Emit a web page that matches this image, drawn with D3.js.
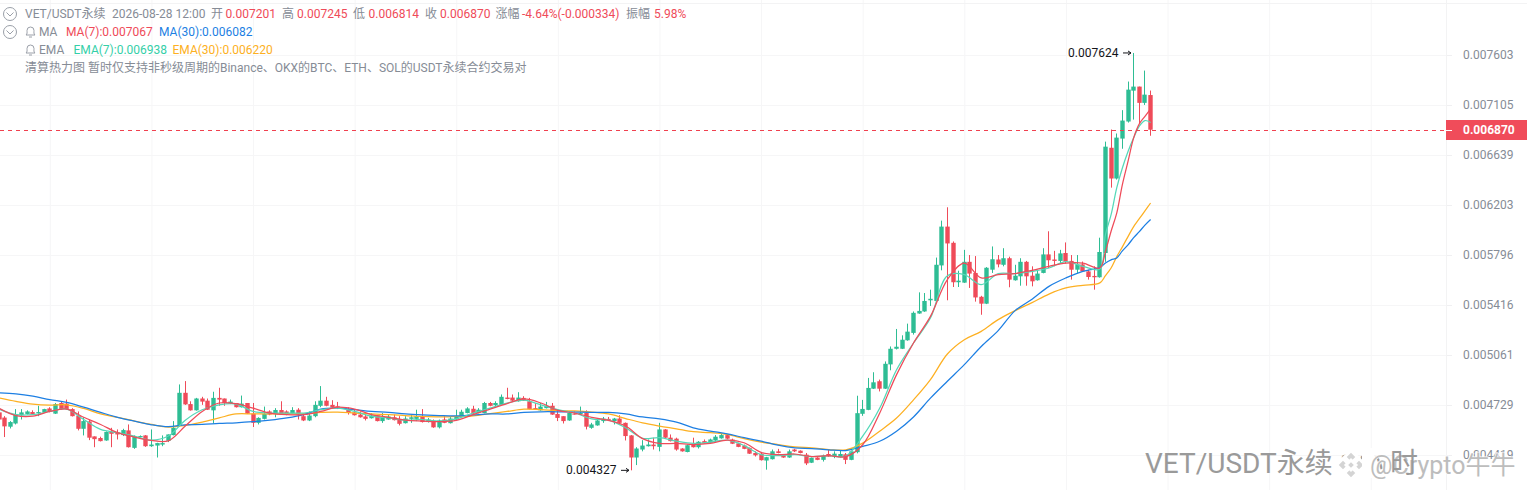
<!DOCTYPE html>
<html lang="zh">
<head>
<meta charset="UTF-8">
<title>VET/USDT永续</title>
<script src="https://d3js.org/d3.v7.min.js"></script>
<style>
  html, body { margin: 0; padding: 0; background: #fff; overflow: hidden; }
  text { font-family: Roboto, "Noto Sans CJK SC", sans-serif; font-size: 12px; }
  .grid line { stroke: #f6f6f7; }
  .grid path, .price-axis path { display: none; }
  .price-axis text { fill: #868c96; font-size: 12px; }
  .price-axis line { stroke: #f0f0f2; }
</style>
</head>
<body>
<svg id="chart" width="1527" height="490"></svg>
<script>
// candles, prices x 1e-6
const opens = [4682,4649,4592,4612,4666,4672,4684,4682,4682,4707,4674,4742,4738,4703,4662,4579,4625,4532,4522,4507,4561,4555,4540,4569,4462,4530,4538,4472,4476,4482,4505,4540,4596,4808,4735,4695,4771,4757,4695,4775,4771,4738,4742,4715,4742,4674,4616,4641,4688,4674,4697,4688,4676,4699,4658,4631,4658,4724,4757,4730,4721,4709,4703,4682,4668,4656,4645,4662,4627,4637,4651,4639,4614,4641,4641,4658,4621,4629,4588,4637,4614,4637,4658,4678,4705,4678,4678,4742,4728,4730,4777,4777,4753,4775,4753,4709,4695,4709,4724,4672,4658,4631,4674,4672,4678,4585,4600,4627,4641,4627,4643,4616,4538,4404,4452,4472,4482,4468,4575,4524,4518,4458,4437,4482,4466,4503,4493,4507,4520,4540,4513,4489,4476,4462,4431,4427,4386,4394,4441,4421,4404,4452,4445,4421,4373,4404,4390,4425,4410,4406,4423,4390,4436,4673,4698,4835,4884,4835,4997,5104,5104,5163,5215,5354,5369,5451,5446,5715,6024,5893,5586,5583,5743,5657,5477,5426,5682,5761,5720,5771,5601,5631,5743,5636,5601,5657,5801,5761,5750,5812,5750,5682,5723,5669,5634,5624,5812,6704,6430,6788,6947,7244,7284,7125,7201];
const highs = [4699,4658,4627,4703,4703,4695,4695,4724,4705,4715,4742,4753,4764,4709,4688,4651,4637,4532,4530,4563,4585,4575,4579,4606,4538,4538,4540,4575,4493,4538,4544,4627,4863,4885,4753,4775,4782,4771,4815,4841,4771,4764,4742,4790,4742,4742,4651,4719,4695,4709,4753,4695,4715,4709,4678,4688,4753,4852,4782,4760,4749,4715,4715,4699,4688,4668,4678,4664,4678,4668,4668,4658,4658,4668,4699,4703,4647,4637,4637,4658,4653,4699,4699,4715,4724,4709,4749,4749,4753,4797,4841,4797,4812,4786,4775,4742,4742,4749,4742,4699,4658,4688,4688,4719,4695,4616,4637,4653,4653,4647,4664,4618,4540,4466,4509,4513,4524,4616,4577,4544,4524,4460,4482,4524,4503,4513,4518,4540,4550,4544,4518,4493,4482,4464,4441,4431,4408,4452,4456,4423,4452,4456,4447,4431,4404,4406,4421,4452,4441,4445,4431,4445,4789,4762,4906,4944,4895,5017,5120,5243,5198,5281,5369,5510,5505,5530,5776,6073,6184,5904,5674,5837,5796,5788,5484,5702,5864,5796,5850,5783,5720,5771,5750,5708,5682,5850,5986,5829,5837,5896,5796,5796,5745,5682,5708,5934,6760,6872,6835,7055,7334,7624,7284,7444,7245];
const lows = [4627,4528,4581,4606,4637,4668,4668,4658,4678,4682,4672,4699,4699,4656,4569,4538,4509,4466,4501,4505,4466,4513,4534,4464,4456,4526,4468,4468,4404,4472,4497,4538,4592,4730,4693,4693,4730,4697,4612,4724,4724,4735,4713,4713,4672,4590,4606,4637,4664,4651,4668,4664,4672,4637,4627,4627,4651,4715,4721,4711,4703,4707,4668,4662,4649,4631,4643,4625,4616,4635,4631,4600,4612,4616,4627,4618,4618,4585,4581,4614,4612,4635,4656,4676,4672,4676,4676,4721,4719,4728,4766,4755,4751,4755,4701,4697,4693,4707,4666,4627,4612,4629,4668,4670,4575,4579,4598,4616,4627,4606,4614,4507,4328,4359,4441,4470,4452,4441,4522,4501,4445,4439,4435,4464,4458,4487,4491,4497,4518,4515,4485,4466,4454,4425,4410,4386,4332,4392,4429,4402,4402,4437,4429,4359,4371,4388,4380,4408,4400,4404,4365,4388,4429,4660,4696,4833,4817,4833,4957,5099,5102,5160,5203,5352,5366,5409,5441,5677,5451,5550,5550,5581,5543,5441,5345,5423,5657,5700,5708,5548,5598,5560,5560,5555,5598,5654,5695,5708,5730,5730,5606,5657,5667,5606,5530,5621,5743,6351,6421,6695,6937,6965,6928,7105,6814];
const closes = [4637,4594,4621,4672,4682,4688,4672,4684,4703,4686,4735,4703,4703,4658,4579,4627,4524,4515,4503,4559,4548,4544,4571,4466,4528,4534,4472,4482,4491,4491,4544,4585,4808,4733,4695,4771,4751,4699,4775,4764,4742,4751,4715,4738,4674,4616,4647,4672,4668,4697,4670,4672,4697,4668,4631,4662,4730,4757,4724,4713,4713,4713,4678,4664,4651,4641,4662,4627,4651,4656,4633,4610,4643,4651,4658,4621,4637,4588,4631,4616,4643,4658,4686,4707,4674,4699,4742,4724,4742,4782,4768,4757,4777,4757,4703,4699,4719,4724,4668,4647,4627,4678,4670,4678,4592,4606,4631,4643,4631,4643,4616,4534,4404,4458,4476,4482,4472,4575,4524,4503,4452,4441,4478,4466,4499,4489,4513,4530,4540,4518,4487,4468,4456,4427,4417,4388,4406,4441,4431,4404,4441,4441,4431,4369,4402,4390,4415,4410,4427,4425,4390,4441,4677,4704,4840,4877,4835,5001,5104,5118,5167,5224,5359,5373,5446,5462,5720,6024,5888,5586,5598,5743,5652,5472,5426,5697,5763,5723,5771,5606,5636,5743,5631,5593,5652,5801,5755,5750,5809,5745,5682,5723,5669,5626,5624,5820,6714,6430,6797,6956,7254,7284,7125,7205,6870];

// moving average readings, one per entry of lineIdx
const lineIdx = [0,3,6,9,12,15,18,21,24,27,30,33,36,39,42,45,48,51,54,57,60,63,66,69,72,75,78,81,84,87,90,93,96,99,102,105,108,111,114,117,120,123,126,129,132,135,138,141,144,147,150,153,156,159,162,165,168,171,174,177,180,183,186,189,192,195,196,197,198,199,200,201,202,203,204];
const ma7 = [4709,4662,4658,4688,4703,4651,4606,4555,4528,4507,4505,4596,4688,4742,4738,4709,4678,4668,4668,4688,4715,4703,4668,4651,4633,4627,4623,4631,4668,4703,4738,4768,4742,4695,4678,4651,4631,4596,4518,4489,4489,4482,4489,4509,4493,4435,4421,4425,4410,4415,4409,4481,4677,4928,5144,5333,5606,5733,5619,5644,5652,5677,5708,5733,5733,5695,5823,5986,6135,6377,6581,6795,6925,6996,7067];
const ma30 = [4808,4801,4786,4764,4746,4715,4682,4651,4627,4604,4592,4604,4606,4612,4616,4623,4633,4647,4668,4703,4709,4699,4688,4682,4672,4666,4662,4660,4666,4672,4672,4682,4686,4686,4684,4682,4682,4672,4653,4641,4621,4585,4565,4548,4524,4503,4478,4462,4458,4450,4446,4471,4502,4564,4653,4773,4884,4995,5120,5231,5375,5459,5555,5619,5669,5699,5733,5758,5773,5829,5877,5934,5983,6036,6082];
const ema7 = [4703,4668,4668,4688,4703,4637,4575,4555,4534,4509,4534,4633,4699,4730,4735,4688,4678,4678,4678,4699,4709,4688,4658,4647,4633,4637,4627,4641,4678,4709,4742,4760,4730,4699,4678,4641,4633,4585,4520,4524,4503,4489,4497,4509,4476,4421,4415,4421,4410,4415,4413,4533,4708,4961,5144,5321,5636,5644,5568,5652,5652,5669,5695,5745,5708,5687,5959,6122,6349,6522,6670,6795,6903,6956,6938];
const ema30 = [4775,4753,4735,4728,4730,4707,4672,4651,4627,4606,4590,4600,4621,4647,4672,4672,4672,4674,4672,4682,4684,4678,4672,4668,4662,4656,4653,4656,4660,4674,4688,4703,4699,4693,4691,4684,4672,4643,4616,4596,4579,4561,4555,4544,4518,4497,4482,4468,4462,4452,4450,4491,4564,4646,4762,4895,5068,5167,5226,5310,5375,5434,5497,5543,5563,5581,5636,5695,5783,5861,5943,6024,6089,6154,6220];

const tickLabels = ["0.007603","0.007105","0.006639","0.006203","0.005796","0.005416","0.005061","0.004729","0.004419"];
const gridIdx = [9,27,45,63,81,99,117,135,153,171,189,207,225,243];
const lastPrice = "0.006870";
const highMark = "0.007624";
const lowMark = "0.004327";

const UP = "#2ebd94", DOWN = "#ef4b59";
const GREY = "#868c96";

const svg = d3.select("#chart");
const W = 1527, H = 490, axisX = 1446;

const x = d3.scaleLinear().domain([0, 204]).range([-1, 1150.6]);
const y = d3.scaleLog().domain([4419, 7603]).range([455, 55]);

// grid
svg.append("g").attr("class", "grid")
  .attr("transform", "translate(0," + H + ")")
  .call(d3.axisBottom(x).tickValues(gridIdx).tickSize(-H).tickFormat(""));
const tickVals = tickLabels.map(d => +d * 1e6);
svg.append("g").attr("class", "grid")
  .attr("transform", "translate(" + axisX + ",0)")
  .call(d3.axisLeft(y).tickValues(tickVals).tickSize(axisX).tickFormat(""));
svg.append("line").attr("x1", 0).attr("x2", W).attr("y1", 3.5).attr("y2", 3.5).attr("stroke", "#f3f3f4");

// price axis
svg.append("g").attr("class", "price-axis")
  .attr("transform", "translate(" + axisX + ",0)")
  .call(d3.axisRight(y).tickValues(tickVals).tickSize(6).tickPadding(11)
    .tickFormat((d, i) => tickLabels[i]));
svg.append("line").attr("x1", axisX + .5).attr("x2", axisX + .5).attr("y1", 0).attr("y2", H).attr("stroke", "#f3f3f4");

// candles
const cand = svg.append("g").selectAll("g").data(opens).join("g");
const colour = i => closes[i] >= opens[i] ? UP : DOWN;
cand.append("line")
  .attr("x1", (d, i) => Math.floor(x(i)) + .5).attr("x2", (d, i) => Math.floor(x(i)) + .5)
  .attr("y1", (d, i) => y(highs[i])).attr("y2", (d, i) => y(lows[i]))
  .attr("stroke", (d, i) => colour(i)).attr("stroke-width", 1);
cand.append("rect")
  .attr("x", (d, i) => Math.floor(x(i)) + .5 - 2.2).attr("width", 4.4)
  .attr("y", (d, i) => y(Math.max(opens[i], closes[i])))
  .attr("height", (d, i) => Math.max(1, Math.abs(y(opens[i]) - y(closes[i]))))
  .attr("fill", (d, i) => colour(i));

// moving averages
const line = d3.line().x((d, i) => x(lineIdx[i])).y(d => y(d)).curve(d3.curveCatmullRom.alpha(0.5));
[[ema30, "#fdb022"], [ma30, "#1d7fe3"], [ema7, "#55d8b8"], [ma7, "#ef4b59"]].forEach(([vals, c]) => {
  svg.append("path").attr("d", line(vals)).attr("fill", "none").attr("stroke", c).attr("stroke-width", 1.25);
});

// last price
const lastY = Math.round(y(+lastPrice * 1e6)) + .5;
svg.append("line").attr("x1", 0).attr("x2", axisX).attr("y1", lastY).attr("y2", lastY)
  .attr("stroke", "#f0414f").attr("stroke-dasharray", "4 4");
svg.append("rect").attr("x", axisX).attr("y", lastY - 10.5).attr("width", W - axisX).attr("height", 20).attr("fill", "#f04c5a");
svg.append("line").attr("x1", axisX).attr("x2", axisX + 6).attr("y1", lastY).attr("y2", lastY).attr("stroke", "#fff");
svg.append("text").attr("x", 1463).attr("y", lastY + 3.5).attr("fill", "#fff").attr("font-weight", 700).text(lastPrice);

// high / low marks
function mark(textX, val, label) {
  const my = y(val);
  svg.append("text").attr("x", textX).attr("y", my + 4).attr("fill", "#14151a").text(label);
  const ax0 = textX + 55, ax1 = textX + 63;
  svg.append("path").attr("d", `M${ax0},${my}H${ax1}M${ax1 - 3},${my - 2}L${ax1},${my}L${ax1 - 3},${my + 2}`)
    .attr("fill", "none").attr("stroke", "#14151a");
}
mark(1068, 7624, highMark);
mark(566, 4328, lowMark);

// legend text
const RED = "#ef4b59";
const legend = [
  ["VET/USDT永续", 25, 18, GREY], ["2026-08-28 12:00", 112, 18, GREY],
  ["开", 211, 18, GREY], ["0.007201", 225.5, 18, RED],
  ["高", 282, 18, GREY], ["0.007245", 297, 18, RED],
  ["低", 353, 18, GREY], ["0.006814", 368.5, 18, RED],
  ["收", 425, 18, GREY], ["0.006870", 440, 18, RED],
  ["涨幅", 495.5, 18, GREY], ["-4.64%(-0.000334)", 522, 18, RED],
  ["振幅", 626, 18, GREY], ["5.98%", 654, 18, RED],
  ["MA", 39, 36, GREY], ["MA(7):0.007067", 66, 36, RED], ["MA(30):0.006082", 159, 36, "#1d7fe3"],
  ["EMA", 39, 54, GREY], ["EMA(7):0.006938", 73.5, 54, "#34cfa8"], ["EMA(30):0.006220", 172.5, 54, "#fdb022"],
  ["清算热力图 暂时仅支持非秒级周期的Binance、OKX的BTC、ETH、SOL的USDT永续合约交易对", 25, 72, GREY]
];
svg.append("g").selectAll("text").data(legend).join("text")
  .attr("x", d => d[1]).attr("y", d => d[2]).attr("fill", d => d[3]).text(d => d[0]);

// collapse buttons
[14, 32].forEach(cy => {
  svg.append("circle").attr("cx", 10).attr("cy", cy).attr("r", 6.5).attr("fill", "none").attr("stroke", "#9a9fa8");
  svg.append("path").attr("d", `M6.5,${cy - 1.5}L10,${cy + 2}L13.5,${cy - 1.5}`).attr("fill", "none").attr("stroke", "#9a9fa8");
});
// bells
[32, 50].forEach(cy => {
  svg.append("path")
    .attr("d", `M26,${cy + 3}c1.5,-1 1,-3 1,-4.5a3.5,3.5 0 0 1 7,0c0,1.5 -.5,3.5 1,4.5zM29,${cy + 5}h3`)
    .attr("fill", "none").attr("stroke", "#9a9fa8");
});

// watermarks, the logo and @ sit over the interval text
svg.append("text").attr("x", 1145).attr("y", 473).attr("fill", "#9a9a9a").style("font-size", "28px").text("VET/USDT永续 1小");
const logo = svg.append("g").attr("transform", "translate(1351,465)");
[[0, -8, 4.5], [-8, 0, 4.5], [8, 0, 4.5], [0, 8, 4.5], [0, 0, 3.5]].forEach(([dx, dy, s]) => {
  logo.append("rect").attr("x", dx - s).attr("y", dy - s).attr("width", 2 * s).attr("height", 2 * s)
    .attr("transform", `rotate(45 ${dx} ${dy})`)
    .attr("fill", "#d4d4d4").attr("stroke", "#fff").attr("stroke-width", 3);
});
svg.append("rect").attr("x", 1362).attr("y", 448).attr("width", 12).attr("height", 30).attr("fill", "#fff");
svg.append("text").attr("x", 1370).attr("y", 474).attr("fill", "#bdbdbd").attr("stroke", "#fff").attr("stroke-width", 1.5)
  .attr("paint-order", "stroke").style("font-size", "25px").text("@Crypto牛牛");
svg.append("text").attr("x", 1390).attr("y", 473).attr("fill", "#9a9a9a").style("font-size", "28px").text("时");
</script>
</body>
</html>
